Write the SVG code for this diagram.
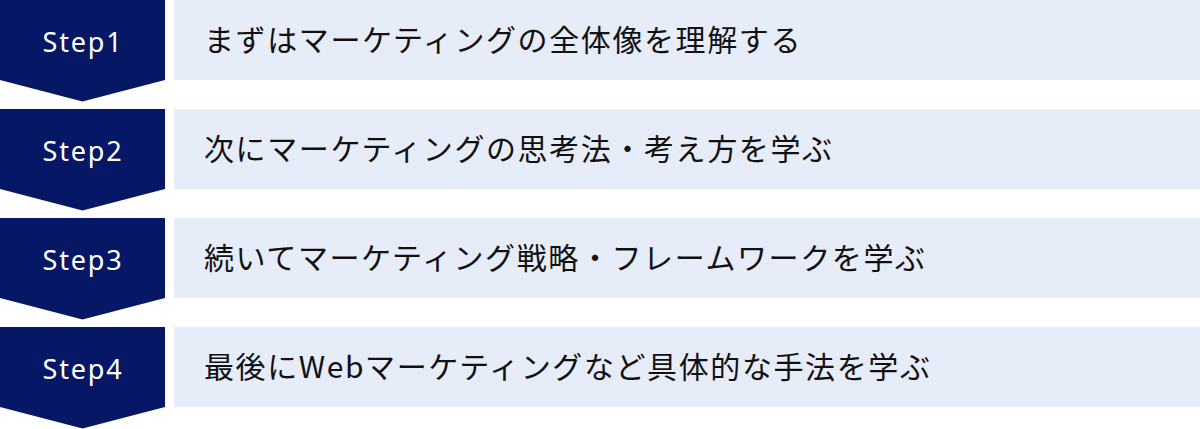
<svg xmlns="http://www.w3.org/2000/svg" width="1200" height="429" viewBox="0 0 1200 429">
<style>
.badge{fill:#061865}
.box{fill:#E7ECF9}
.lbl{font-family:"Noto Sans","Noto Sans CJK JP",sans-serif;font-size:27px;fill:#ffffff;letter-spacing:1.8px;text-anchor:middle}
.txt{font-family:"Noto Sans CJK JP","Noto Sans",sans-serif;font-size:30px;fill:#111111;letter-spacing:1.6px}
</style>
<rect width="1200" height="429" fill="#ffffff"/>
<g id="step1">
<polygon class="badge" points="0,0 165,0 165,80 82.5,101.5 0,80"/>
<text class="lbl" x="83" y="51.5">Step1</text>
<rect class="box" x="174" y="0" width="1026" height="80"/>
<text class="txt" x="204" y="51">まずはマーケティングの全体像を理解する</text>
</g>
<g id="step2">
<polygon class="badge" points="0,109 165,109 165,189 82.5,210.5 0,189"/>
<text class="lbl" x="83" y="160.5">Step2</text>
<rect class="box" x="174" y="109" width="1026" height="80"/>
<text class="txt" x="204" y="160">次にマーケティングの思考法・考え方を学ぶ</text>
</g>
<g id="step3">
<polygon class="badge" points="0,218 165,218 165,298 82.5,319.5 0,298"/>
<text class="lbl" x="83" y="269.5">Step3</text>
<rect class="box" x="174" y="218" width="1026" height="80"/>
<text class="txt" x="204" y="269">続いてマーケティング戦略・フレームワークを学ぶ</text>
</g>
<g id="step4">
<polygon class="badge" points="0,327 165,327 165,407 82.5,428.5 0,407"/>
<text class="lbl" x="83" y="378.5">Step4</text>
<rect class="box" x="174" y="327" width="1026" height="80"/>
<text class="txt" x="204" y="378">最後にWebマーケティングなど具体的な手法を学ぶ</text>
</g>
<g id="connectors"></g>
</svg>
